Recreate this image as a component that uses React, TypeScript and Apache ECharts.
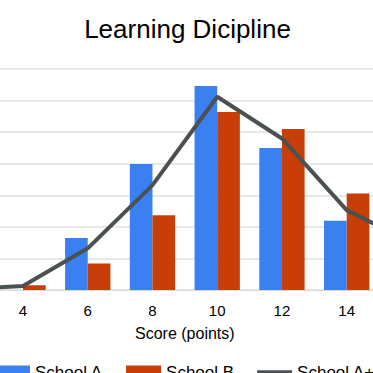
import React, { useEffect, useRef } from "react";
import * as echarts from "echarts";

const categories = ["2", "4", "6", "8", "10", "12", "14", "16"];
const schoolA = [0, 0, 1.65, 3.99, 6.46, 4.5, 2.19, 1.2];
const schoolB = [0, 0.15, 0.84, 2.37, 5.64, 5.1, 3.06, 1.8];
const schoolAB = [0, 0.13, 1.32, 3.32, 6.12, 4.8, 2.53, 1.5];

export default function App() {
  const ref = useRef<HTMLDivElement>(null);
  useEffect(() => {
    if (!ref.current) return;
    const chart = echarts.init(ref.current, null, { renderer: "svg" });
    const font = "'Liberation Sans', Arial, sans-serif";
    chart.setOption({
      animation: false,
      backgroundColor: "#ffffff",
      textStyle: { fontFamily: font },
      title: {
        text: "Learning Dicipline",
        left: "center",
        top: 11,
        textStyle: { fontFamily: font, fontSize: 26, fontWeight: "normal", color: "#000000" },
      },
      grid: { left: 25.9, right: 31.2, top: 69, bottom: 110 },
      legend: {
        left: 95,
        top: 364,
        padding: 0,
        itemWidth: 35,
        itemHeight: 14,
        itemGap: 23,
        textStyle: { fontFamily: font, fontSize: 17, color: "#000000" },
        data: [
          { name: "School A", icon: "rect" },
          { name: "School B", icon: "rect" },
          { name: "School A+B", icon: "path://M0,0H40V5H0Z" },
        ],
      },
      xAxis: {
        type: "category",
        data: categories,
        name: "Score (points)",
        nameLocation: "middle",
        nameGap: 35,
        nameTextStyle: { fontFamily: font, fontSize: 16, color: "#000000" },
        axisLine: { show: true, lineStyle: { color: "#d9d9d9", width: 1 } },
        axisTick: { show: false },
        axisLabel: {
          fontFamily: font,
          fontSize: 15,
          color: "#000000",
          margin: 13,
          interval: (index: number) => index > 0 && index < categories.length - 1,
        },
      },
      yAxis: {
        type: "value",
        min: 0,
        max: 7,
        interval: 1,
        axisLabel: { show: false },
        axisLine: { show: false },
        axisTick: { show: false },
        splitLine: { lineStyle: { color: "#e0e0e0", width: 1.5 } },
      },
      series: [
        {
          name: "School A",
          type: "bar",
          data: schoolA,
          barGap: "0%",
          barCategoryGap: "30%",
          itemStyle: { color: "#3a80f0" },
        },
        {
          name: "School B",
          type: "bar",
          data: schoolB,
          barGap: "0%",
          barCategoryGap: "30%",
          itemStyle: { color: "#c73e08" },
        },
        {
          name: "School A+B",
          type: "line",
          data: schoolAB,
          smooth: false,
          symbol: "none",
          lineStyle: { color: "#4b5153", width: 4 },
          itemStyle: { color: "#4b5153" },
        },
      ],
    });
    return () => chart.dispose();
  }, []);
  return (
    <div style={{ position: "absolute", left: 0, top: 0, width: 373, height: 373, overflow: "hidden", background: "#fff" }}>
      <div ref={ref} style={{ position: "absolute", left: -100, top: 0, width: 575, height: 400 }} />
    </div>
  );
}
